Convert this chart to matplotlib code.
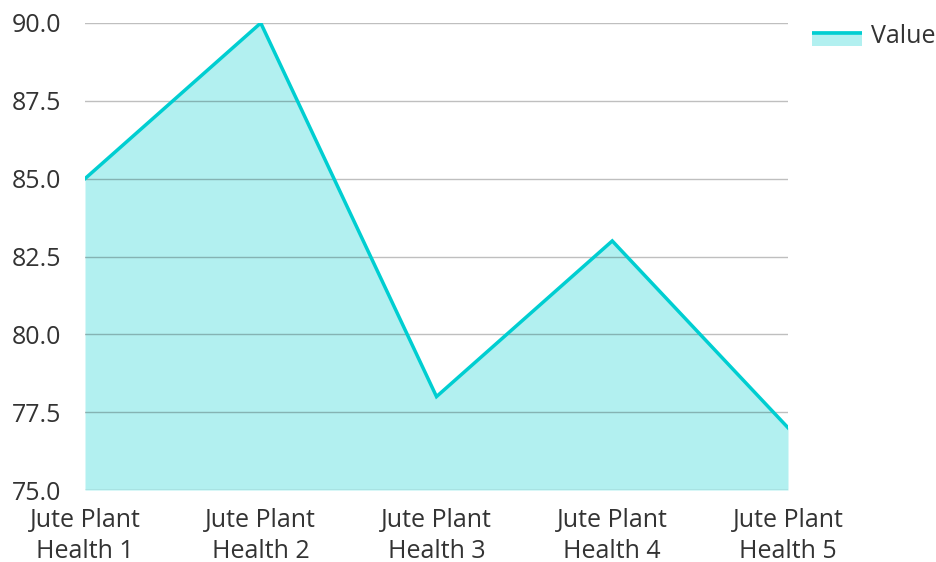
import matplotlib
matplotlib.use("Agg")
import matplotlib.pyplot as plt
from matplotlib.patches import Patch, Rectangle
from matplotlib.lines import Line2D
from matplotlib.legend_handler import HandlerBase

categories = ["Jute Plant\nHealth 1", "Jute Plant\nHealth 2", "Jute Plant\nHealth 3",
              "Jute Plant\nHealth 4", "Jute Plant\nHealth 5"]
values = [85, 90, 78, 83, 77]
yticks = [75.0, 77.5, 80.0, 82.5, 85.0, 87.5, 90.0]

plt.rcParams['font.family'] = ['Open Sans', 'DejaVu Sans']
line_c = "#00CED1"
fill_c = "#B2F0F0"
text_c = "#333333"


class AreaHandler(HandlerBase):
    def create_artists(self, legend, orig_handle, xdescent, ydescent, width, height, fontsize, trans):
        ph = 11.0  # points
        y0 = -ydescent + height / 2 - ph / 2 - 3.0
        r = Rectangle((-xdescent, y0), width, ph, facecolor=fill_c, edgecolor='none', transform=trans)
        top = y0 + ph - 1.8
        l = Line2D([-xdescent, -xdescent + width], [top, top], color=line_c, lw=2.6,
                   solid_capstyle='butt', transform=trans)
        return [r, l]


fig = plt.figure(figsize=(9.36, 5.62), dpi=100)
ax = fig.add_axes([85/936, 1-490/562, (788-85)/936, (490-23)/562])
x = list(range(len(values)))
ax.fill_between(x, values, 75, color=fill_c, lw=0, zorder=1)
ax.plot(x, values, color=line_c, lw=2.5, zorder=3, solid_joinstyle='miter')
ax.set_xlim(0, 4)
ax.set_ylim(75, 90)
ax.set_yticks(yticks)
ax.set_yticklabels([f"{v:.1f}" for v in yticks])
ax.set_xticks(x)
ax.set_xticklabels(categories, linespacing=1.3)
for yv in yticks:
    ax.axhline(yv, color="#000000", alpha=0.25, lw=1, zorder=2)
for s in ax.spines.values():
    s.set_visible(False)
ax.tick_params(axis='both', length=0, labelsize=18, colors=text_c)
ax.tick_params(axis='y', pad=17)
ax.tick_params(axis='x', pad=13)
handle = Patch(facecolor=fill_c)
leg = fig.legend([handle], ["Value"], loc='upper left', bbox_to_anchor=(812/936, 1-24/562),
                 frameon=False, fontsize=18, handlelength=2.0, handletextpad=0.36,
                 borderpad=0, borderaxespad=0,
                 handler_map={Patch: AreaHandler()})
for t in leg.get_texts():
    t.set_color(text_c)
fig.savefig("out.png", dpi=100)
